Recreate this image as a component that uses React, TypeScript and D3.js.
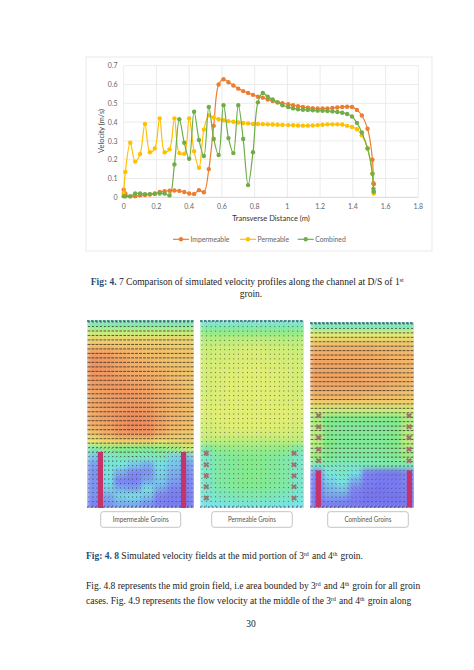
import React from 'react';
import * as d3 from 'd3';

const distance = [
  0, 0.01, 0.04, 0.07, 0.1, 0.13, 0.16, 0.19, 0.22, 0.25, 0.28, 0.31, 0.34, 0.37, 0.4, 0.43, 0.46, 0.49,
  0.52, 0.55, 0.58, 0.61, 0.64, 0.67, 0.7, 0.73, 0.76, 0.79, 0.82, 0.85, 0.88, 0.91, 0.94, 0.97,
  1.005, 1.035, 1.065, 1.095, 1.125, 1.155, 1.185, 1.215, 1.245, 1.275, 1.305, 1.335, 1.365, 1.395, 1.425, 1.455,
  1.49, 1.52, 1.526, 1.528,
];
const impermeable = [
  0.04, 0.02, 0.005, 0.005, 0.01, 0.012, 0.015, 0.018, 0.028, 0.033, 0.035, 0.036, 0.034, 0.028, 0.02, 0.018, 0.038, 0.027,
  0.15, 0.38, 0.6, 0.628, 0.612, 0.595, 0.578, 0.565, 0.555, 0.545, 0.535, 0.53, 0.52, 0.512, 0.505, 0.5,
  0.495, 0.49, 0.485, 0.48, 0.476, 0.474, 0.472, 0.472, 0.473, 0.475, 0.478, 0.48, 0.482, 0.48, 0.465, 0.435,
  0.365, 0.2, 0.075, 0.07,
];
const permeable = [
  0.02, 0.135, 0.29, 0.19, 0.23, 0.39, 0.24, 0.26, 0.42, 0.24, 0.255, 0.42, 0.235, 0.232, 0.42, 0.245, 0.157, 0.36,
  0.435, 0.425, 0.415, 0.41, 0.405, 0.402, 0.398, 0.395, 0.393, 0.39, 0.39, 0.389, 0.388, 0.387, 0.386, 0.385,
  0.384, 0.383, 0.382, 0.381, 0.381, 0.382, 0.384, 0.386, 0.388, 0.388, 0.388, 0.387, 0.38, 0.374, 0.362, 0.33,
  0.26, 0.125, 0.03, 0.02,
];
const combined = [
  0.005, 0.005, 0.005, 0.02, 0.02, 0.017, 0.017, 0.02, 0.02, 0.02, 0.01, 0.175, 0.415, 0.29, 0.205, 0.455, 0.305, 0.22,
  0.48, 0.31, 0.225, 0.49, 0.315, 0.235, 0.49, 0.31, 0.065, 0.24, 0.505, 0.555, 0.535, 0.52, 0.505, 0.49,
  0.48, 0.473, 0.468, 0.466, 0.465, 0.463, 0.461, 0.46, 0.459, 0.457, 0.454, 0.45, 0.443, 0.43, 0.396, 0.345,
  0.26, 0.125, 0.045, 0.03,
];
const xTicks = [0, 0.2, 0.4, 0.6, 0.8, 1, 1.2, 1.4, 1.6, 1.8];
const yTicks = [0, 0.1, 0.2, 0.3, 0.4, 0.5, 0.6, 0.7];

// simulated speed, read by eye from the contour colours (0-100)
const speedImpermeable = [
  [44, 44, 44, 44, 44, 44, 44, 44],
  [60, 60, 60, 60, 60, 60, 60, 60],
  [72, 72, 72, 72, 72, 72, 72, 72],
  [80, 80, 78, 78, 76, 76, 74, 74],
  [90, 88, 84, 80, 78, 78, 76, 76],
  [92, 90, 86, 82, 80, 78, 76, 76],
  [92, 90, 86, 84, 82, 80, 78, 76],
  [90, 90, 88, 86, 84, 82, 78, 76],
  [88, 90, 90, 88, 86, 82, 80, 76],
  [86, 88, 90, 90, 88, 84, 80, 78],
  [86, 88, 90, 90, 88, 84, 80, 78],
  [84, 88, 90, 92, 90, 84, 80, 78],
  [84, 88, 92, 94, 92, 86, 80, 78],
  [82, 86, 92, 96, 94, 86, 80, 78],
  [76, 82, 88, 90, 90, 82, 76, 74],
  [66, 70, 72, 72, 72, 68, 70, 72],
  [44, 52, 50, 50, 48, 52, 54, 60],
  [30, 38, 42, 42, 40, 42, 32, 30],
  [24, 38, 36, 30, 26, 34, 30, 24],
  [22, 36, 26, 20, 22, 32, 26, 22],
  [22, 34, 20, 18, 26, 30, 24, 20],
  [22, 32, 26, 24, 34, 26, 20, 20],
  [22, 26, 32, 34, 30, 20, 16, 18],
  [18, 22, 26, 26, 22, 16, 14, 16],
];
const speedPermeable = [
  [40, 40, 40, 40, 40, 40, 40, 40],
  [52, 52, 52, 52, 52, 52, 52, 52],
  [58, 58, 59, 59, 59, 59, 58, 58],
  [60, 61, 61, 62, 62, 61, 61, 60],
  [61, 62, 62, 63, 63, 62, 62, 61],
  [62, 62, 63, 63, 63, 63, 62, 62],
  [62, 63, 63, 64, 64, 63, 63, 62],
  [62, 63, 64, 64, 64, 64, 63, 62],
  [62, 63, 64, 64, 64, 64, 63, 62],
  [62, 63, 64, 64, 64, 64, 63, 62],
  [63, 63, 64, 64, 64, 64, 63, 63],
  [63, 64, 64, 64, 64, 64, 64, 63],
  [63, 64, 64, 64, 64, 64, 64, 63],
  [62, 63, 64, 64, 64, 64, 63, 62],
  [61, 62, 62, 62, 62, 62, 62, 61],
  [58, 58, 58, 58, 58, 58, 58, 58],
  [46, 52, 53, 53, 53, 53, 52, 46],
  [40, 46, 48, 50, 50, 48, 46, 40],
  [40, 46, 48, 50, 50, 48, 46, 40],
  [40, 46, 48, 50, 50, 48, 46, 40],
  [40, 46, 48, 50, 50, 48, 46, 40],
  [39, 45, 47, 48, 48, 47, 45, 39],
  [37, 41, 43, 44, 44, 43, 41, 37],
  [35, 36, 37, 38, 38, 37, 36, 35],
];
const speedCombined = [
  [42, 42, 42, 42, 42, 42, 42, 42],
  [64, 64, 64, 64, 64, 64, 64, 64],
  [74, 74, 74, 74, 74, 74, 74, 74],
  [80, 82, 82, 82, 82, 80, 80, 78],
  [84, 84, 84, 84, 84, 82, 80, 80],
  [86, 86, 86, 86, 84, 84, 82, 80],
  [86, 86, 86, 86, 84, 84, 82, 80],
  [86, 86, 86, 86, 84, 84, 82, 80],
  [84, 84, 84, 84, 84, 82, 80, 78],
  [80, 80, 80, 80, 78, 78, 78, 76],
  [72, 72, 72, 72, 72, 72, 72, 72],
  [62, 60, 60, 60, 60, 60, 60, 62],
  [56, 50, 50, 50, 50, 50, 50, 56],
  [58, 50, 48, 48, 48, 48, 50, 58],
  [58, 50, 48, 48, 48, 48, 50, 58],
  [58, 50, 48, 48, 48, 48, 50, 58],
  [56, 50, 48, 48, 48, 48, 50, 56],
  [54, 48, 46, 46, 46, 46, 48, 54],
  [40, 42, 40, 40, 42, 44, 44, 42],
  [22, 36, 40, 34, 18, 14, 14, 20],
  [20, 32, 36, 26, 16, 14, 14, 20],
  [18, 28, 30, 20, 14, 12, 14, 18],
  [16, 24, 24, 16, 12, 12, 12, 16],
  [14, 18, 16, 14, 12, 12, 12, 14],
];

// flow direction in degrees behind the groins, rows counted from flowStart
const flowImpermeable = [
  [-15, -30, 0, 10, 20, -10, -30, -10],
  [0, -60, -50, 10, 30, 60, -50, 0],
  [0, -90, -70, -10, 40, 80, -60, 0],
  [0, -90, -90, -30, 60, 90, -80, 0],
  [0, -90, -100, 180, 120, 100, -90, 0],
  [0, -80, -120, 170, 150, 120, -100, 0],
  [0, -60, -150, 170, 160, 150, 170, 0],
  [0, 0, -170, 180, 170, 170, 180, 0],
];
const flowCombined = [
  [10, 20, 25, 20, 0, -10, -10, 0],
  [0, 60, 50, 30, -15, -30, -20, 0],
  [0, 80, 60, 30, 0, -30, -40, 0],
  [0, 90, 80, 40, 20, -30, -50, 0],
  [0, 100, 90, 60, 20, -40, -60, 0],
  [0, 90, 70, 40, 0, 0, 0, 0],
];

const groinTicksPermeable = [453.3, 464.7, 475.7, 486.7, 498];
const groinTicksCombined = [415.7, 426.7, 437.7, 449.3, 460.7];

const captions = ['Impermeable Groins', 'Permeable Groins', 'Combined Groins'];
const seriesNames = ['Impermeable', 'Permeable', 'Combined'];
const seriesColors = ['#ed7d31', '#ffc000', '#70ad47'];
const seriesValues = [impermeable, permeable, combined];

const x = d3.scaleLinear().domain([0, 1.8]).range([123.7, 418.3]);
const y = d3.scaleLinear().domain([0, 0.7]).range([197.3, 65.7]);
const line = d3
  .line<number>()
  .x((_, i) => x(distance[i]))
  .y((d) => y(d))
  .curve(d3.curveCatmullRom.alpha(0.5));

const heat = d3
  .scaleLinear<string>()
  .domain([0, 20, 35, 50, 65, 80, 100])
  .range(['#6f5fe8', '#7d86f2', '#78e4e4', '#84ea8e', '#e8ee72', '#f2b56a', '#ec7f5a']);
const arrowLength = d3.scaleLinear().domain([10, 35, 50, 85]).range([0.8, 1.2, 2.4, 3]).clamp(true);

const chartFont = 'Lato, "Open Sans", sans-serif';
const serif = '"Liberation Serif", serif';

type FieldProps = {
  id: string;
  left: number;
  right: number;
  top: number;
  bottom: number;
  speed: number[][];
  flow?: number[][];
  flowStart?: number;
  nCols: number;
  nRows: number;
  arrowScale: number;
};

const Field = ({ id, left, right, top, bottom, speed, flow, flowStart = 0, nCols, nRows, arrowScale }: FieldProps) => {
  const col = d3.scaleBand<number>().domain(d3.range(8)).range([left, right]);
  const row = d3.scaleBand<number>().domain(d3.range(24)).range([top, bottom]);
  const colOf = d3.scaleQuantize<number>().domain([left, right]).range(d3.range(8));
  const rowOf = d3.scaleQuantize<number>().domain([top, bottom]).range(d3.range(24));
  const ax = d3.scaleLinear().domain([0, nCols - 1]).range([left + 2, right - 2]);
  const ay = d3.scaleLinear().domain([0, nRows - 1]).range([top + 2, bottom - 2]);

  return (
    <g>
      <clipPath id={`clip-${id}`}>
        <rect x={left} y={top} width={right - left} height={bottom - top} />
      </clipPath>
      <g clipPath={`url(#clip-${id})`}>
        <g filter="url(#soft)">
          {speed.map((cells, r) =>
            cells.map((v, c) => (
              <rect
                key={`${r}-${c}`}
                x={col(c)}
                y={row(r)}
                width={col.bandwidth() + 0.5}
                height={row.bandwidth() + 0.5}
                fill={heat(v)}
                shapeRendering="crispEdges"
              />
            )),
          )}
        </g>
        {d3.range(nRows).flatMap((j) =>
          d3.range(nCols).map((i) => {
            const px = ax(i);
            const py = ay(j);
            const r = rowOf(py);
            const c = colOf(px);
            const flowRow = flow ? flow[r - flowStart] : undefined;
            const angle = ((flowRow ? flowRow[c] : 0) * Math.PI) / 180;
            const len = Math.max(arrowLength(speed[r][c]) * arrowScale, 0.9);
            return (
              <line
                key={`${j}-${i}`}
                x1={px - (Math.cos(angle) * len) / 2}
                x2={px + (Math.cos(angle) * len) / 2}
                y1={py - (Math.sin(angle) * len) / 2}
                y2={py + (Math.sin(angle) * len) / 2}
                stroke="#222"
                strokeOpacity={0.8}
                strokeWidth={0.9}
              />
            );
          }),
        )}
      </g>
      <line x1={left} x2={right} y1={top + 1} y2={top + 1} stroke="#2f5f78" strokeWidth={1.4} strokeDasharray="2.5 1.5" />
      <line x1={left} x2={right} y1={bottom - 1} y2={bottom - 1} stroke="#2f3f78" strokeWidth={1.2} strokeDasharray="1.5 2.5" />
    </g>
  );
};

const Cross = ({ cx, cy }: { cx: number; cy: number }) => (
  <path
    d={`M${cx - 2.3},${cy - 2} L${cx + 2.3},${cy + 2} M${cx - 2.3},${cy + 2} L${cx + 2.3},${cy - 2}`}
    stroke="#a0706a"
    strokeWidth={2}
    fill="none"
  />
);

const Groin = ({ x0, y0, y1 }: { x0: number; y0: number; y1: number }) => (
  <rect x={x0} y={y0} width={5.2} height={y1 - y0} fill="#c4336c" />
);

const Caption = ({ x0, x1, label, width }: { x0: number; x1: number; label: string; width: number }) => (
  <g>
    <rect x={x0} y={511.7} width={x1 - x0} height={15.6} rx={2.5} fill="#fff" stroke="#bdbdbd" strokeWidth={0.9} />
    <text
      x={(x0 + x1) / 2}
      y={522.4}
      textAnchor="middle"
      fontFamily={chartFont}
      fontSize={7.6}
      fill="#555"
      textLength={width}
      lengthAdjust="spacingAndGlyphs"
    >
      {label}
    </text>
  </g>
);

const Sup = ({ children }: { children: string }) => (
  <>
    <tspan dy={-3.2} fontSize={5.8}>
      {children}
    </tspan>
    <tspan dy={3.2}>{'\u200a'}</tspan>
  </>
);

export default function App() {
  return (
    <svg width={474} height={670} style={{ position: 'absolute', left: 0, top: 0, display: 'block', background: '#fff' }}>
      <defs>
        <filter id="soft" x="0" y="0" width="100%" height="100%" colorInterpolationFilters="sRGB">
          <feGaussianBlur stdDeviation="2.2" edgeMode="duplicate" />
        </filter>
      </defs>

      {/* velocity profile chart */}
      <rect x={86} y={57} width={346} height={194} fill="#fff" stroke="#e9e9e9" strokeWidth={1} />
      {yTicks.slice(1).map((t) => (
        <line key={t} x1={x(0)} x2={x(1.8)} y1={y(t)} y2={y(t)} stroke="#e6e6e6" strokeWidth={0.8} />
      ))}
      {xTicks.map((t) => (
        <line key={t} x1={x(t)} x2={x(t)} y1={y(0)} y2={y(0.7)} stroke="#e6e6e6" strokeWidth={0.8} />
      ))}
      <line x1={x(0)} x2={x(1.8)} y1={y(0)} y2={y(0)} stroke="#d4d4d4" strokeWidth={0.9} />
      {yTicks.map((t) => (
        <text key={t} x={117.5} y={y(t) + 2.6} textAnchor="end" fontFamily={chartFont} fontSize={7} fill="#666">
          {t}
        </text>
      ))}
      {xTicks.map((t) => (
        <text key={t} x={x(t)} y={209.3} textAnchor="middle" fontFamily={chartFont} fontSize={7} fill="#666">
          {t}
        </text>
      ))}
      <text
        transform="translate(104,131) rotate(-90)"
        textAnchor="middle"
        fontFamily={chartFont}
        fontSize={7.4}
        fill="#444"
      >
        Velocity (m/s)
      </text>
      <text x={271} y={221} textAnchor="middle" fontFamily={chartFont} fontSize={7.5} fill="#333">
        Transverse Distance (m)
      </text>
      {seriesValues.map((values, s) => (
        <g key={seriesNames[s]}>
          <path d={line(values) ?? ''} fill="none" stroke={seriesColors[s]} strokeWidth={1.2} />
          {values.map((v, i) => (
            <circle key={i} cx={x(distance[i])} cy={y(v)} r={2.2} fill={seriesColors[s]} />
          ))}
        </g>
      ))}
      {seriesNames.map((name, s) => {
        const lx = [173, 240, 297.7][s];
        return (
          <g key={name}>
            <line x1={lx} x2={lx + 16} y1={239.3} y2={239.3} stroke={seriesColors[s]} strokeWidth={1.2} />
            <circle cx={lx + 8} cy={239.3} r={2.2} fill={seriesColors[s]} />
            <text x={lx + 17.5} y={241.8} fontFamily={chartFont} fontSize={6.8} fill="#666">
              {name}
            </text>
          </g>
        );
      })}

      <text x={90.7} y={285} fontFamily={serif} fontSize={9.5} fill="#222">
        <tspan fontWeight="bold" fill="#1f4e79">
          Fig: 4.
        </tspan>{' '}
        7 Comparison of simulated velocity profiles along the channel at D/S of 1<Sup>st</Sup>
      </text>
      <text x={251} y={296.5} textAnchor="middle" fontFamily={serif} fontSize={9.5} fill="#222">
        groin.
      </text>

      {/* velocity fields */}
      <Field id="imp" left={87} right={194} top={320} bottom={508} speed={speedImpermeable} flow={flowImpermeable} flowStart={16} nCols={27} nRows={42} arrowScale={1} />
      <Field id="per" left={200} right={304} top={320} bottom={508} speed={speedPermeable} nCols={23} nRows={41} arrowScale={0.28} />
      <Field id="com" left={310} right={414} top={322} bottom={508} speed={speedCombined} flow={flowCombined} flowStart={18} nCols={26} nRows={42} arrowScale={1} />

      <Groin x0={97.8} y0={452} y1={508} />
      <Groin x0={181} y0={452} y1={508} />
      <Groin x0={315.8} y0={470.5} y1={507} />
      <Groin x0={406.8} y0={470.5} y1={507} />
      {groinTicksPermeable.map((t) => (
        <g key={t}>
          <Cross cx={206.3} cy={t} />
          <Cross cx={294} cy={t} />
        </g>
      ))}
      {groinTicksCombined.map((t) => (
        <g key={t}>
          <Cross cx={318.7} cy={t} />
          <Cross cx={409} cy={t} />
        </g>
      ))}

      <Caption x0={100.7} x1={180.7} label={captions[0]} width={56} />
      <Caption x0={211.7} x1={292.3} label={captions[1]} width={48} />
      <Caption x0={327.7} x1={408.3} label={captions[2]} width={47} />

      <text x={86} y={559} fontFamily={serif} fontSize={9.5} fill="#222">
        <tspan fontWeight="bold" fill="#1f4e79">
          Fig: 4. 8
        </tspan>{' '}
        Simulated velocity fields at the mid portion of 3<Sup>rd</Sup> and 4<Sup>th</Sup> groin.
      </text>
      <text x={86} y={589} fontFamily={serif} fontSize={9.5} fill="#222">
        Fig. 4.8 represents the mid groin field, i.e area bounded by 3<Sup>rd</Sup> and 4<Sup>th</Sup> groin for all groin
      </text>
      <text x={86} y={604} fontFamily={serif} fontSize={9.5} fill="#222">
        cases. Fig. 4.9 represents the flow velocity at the middle of the 3<Sup>rd</Sup> and 4<Sup>th</Sup> groin along
      </text>
      <text x={251} y={627} textAnchor="middle" fontFamily={serif} fontSize={9.5} fill="#222">
        30
      </text>
    </svg>
  );
}
